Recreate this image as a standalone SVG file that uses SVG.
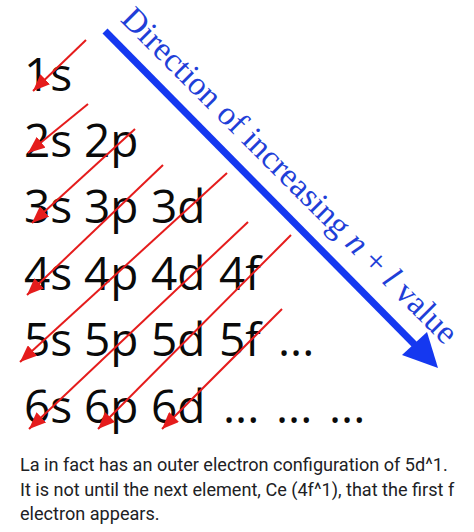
<svg xmlns="http://www.w3.org/2000/svg" width="474" height="532" viewBox="0 0 474 532">
<defs>
<style>
.orb{font-family:"Open Sans","Noto Sans","Liberation Sans",sans-serif;font-size:46px;fill:#0a0a0a}
.red{stroke:#e51c1c;stroke-width:2;fill:none;marker-end:url(#ra)}
.dir{font-family:"Liberation Serif","DejaVu Serif",serif;font-size:33.5px;fill:#1f3fd8}
.note{font-family:Roboto,"Noto Sans","Liberation Sans",sans-serif;font-size:18.1px;fill:#202124}
</style>
<marker id="ra" markerUnits="userSpaceOnUse" markerWidth="18" markerHeight="14" refX="17" refY="7" orient="auto">
<path d="M0,0 L17,7 L0,14 z" fill="#e51c1c"/>
</marker>
</defs>
<rect width="474" height="532" fill="#fff"/>
<g id="orbitals">
<g id="n-1s"><text class="orb" x="24" y="91">1s</text></g>
<g id="n-2s"><text class="orb" x="24" y="157">2s</text></g>
<g id="n-2p"><text class="orb" x="84" y="157">2p</text></g>
<g id="n-3s"><text class="orb" x="24" y="223">3s</text></g>
<g id="n-3p"><text class="orb" x="84" y="223">3p</text></g>
<g id="n-3d"><text class="orb" x="151" y="223">3d</text></g>
<g id="n-4s"><text class="orb" x="24" y="290">4s</text></g>
<g id="n-4p"><text class="orb" x="84" y="290">4p</text></g>
<g id="n-4d"><text class="orb" x="151" y="290">4d</text></g>
<g id="n-4f"><text class="orb" x="219" y="290">4f</text></g>
<g id="n-5s"><text class="orb" x="24" y="356">5s</text></g>
<g id="n-5p"><text class="orb" x="84" y="356">5p</text></g>
<g id="n-5d"><text class="orb" x="151" y="356">5d</text></g>
<g id="n-5f"><text class="orb" x="219" y="356">5f</text></g>
<g id="n-5more"><text class="orb" x="278" y="356">...</text></g>
<g id="n-6s"><text class="orb" x="24" y="423">6s</text></g>
<g id="n-6p"><text class="orb" x="84" y="423">6p</text></g>
<g id="n-6d"><text class="orb" x="151" y="423">6d</text></g>
<g id="n-6more"><text class="orb" y="423"><tspan x="223">...</tspan><tspan x="276">...</tspan><tspan x="329">...</tspan></text></g>
</g>
<g id="connectors">
<line class="red" x1="86" y1="40" x2="33" y2="91"/>
<line class="red" x1="88" y1="104" x2="28" y2="153"/>
<line class="red" x1="135" y1="129" x2="32" y2="223"/>
<line class="red" x1="163" y1="165" x2="27" y2="295"/>
<line class="red" x1="227" y1="173" x2="20" y2="362"/>
<line class="red" x1="248" y1="222" x2="29" y2="429"/>
<line class="red" x1="291" y1="235" x2="98" y2="429"/>
<line class="red" x1="282" y1="309" x2="162" y2="429"/>
</g>
<g id="direction-arrow">
<line x1="105" y1="31" x2="417" y2="347" stroke="#1538f0" stroke-width="7"/>
<polygon points="402,355 438,368 427,332" fill="#1538f0"/>
<text class="dir" transform="rotate(45)" x="99" y="-70">Direction of increasing <tspan font-style="italic">n</tspan> + <tspan font-style="italic">l</tspan> value</text>
</g>
<g id="note">
<text class="note" x="20" y="471">La in fact has an outer electron configuration of 5d^1.</text>
<text class="note" x="20" y="495.5">It is not until the next element, Ce (4f^1), that the first f</text>
<text class="note" x="20" y="520">electron appears.</text>
</g>
</svg>
